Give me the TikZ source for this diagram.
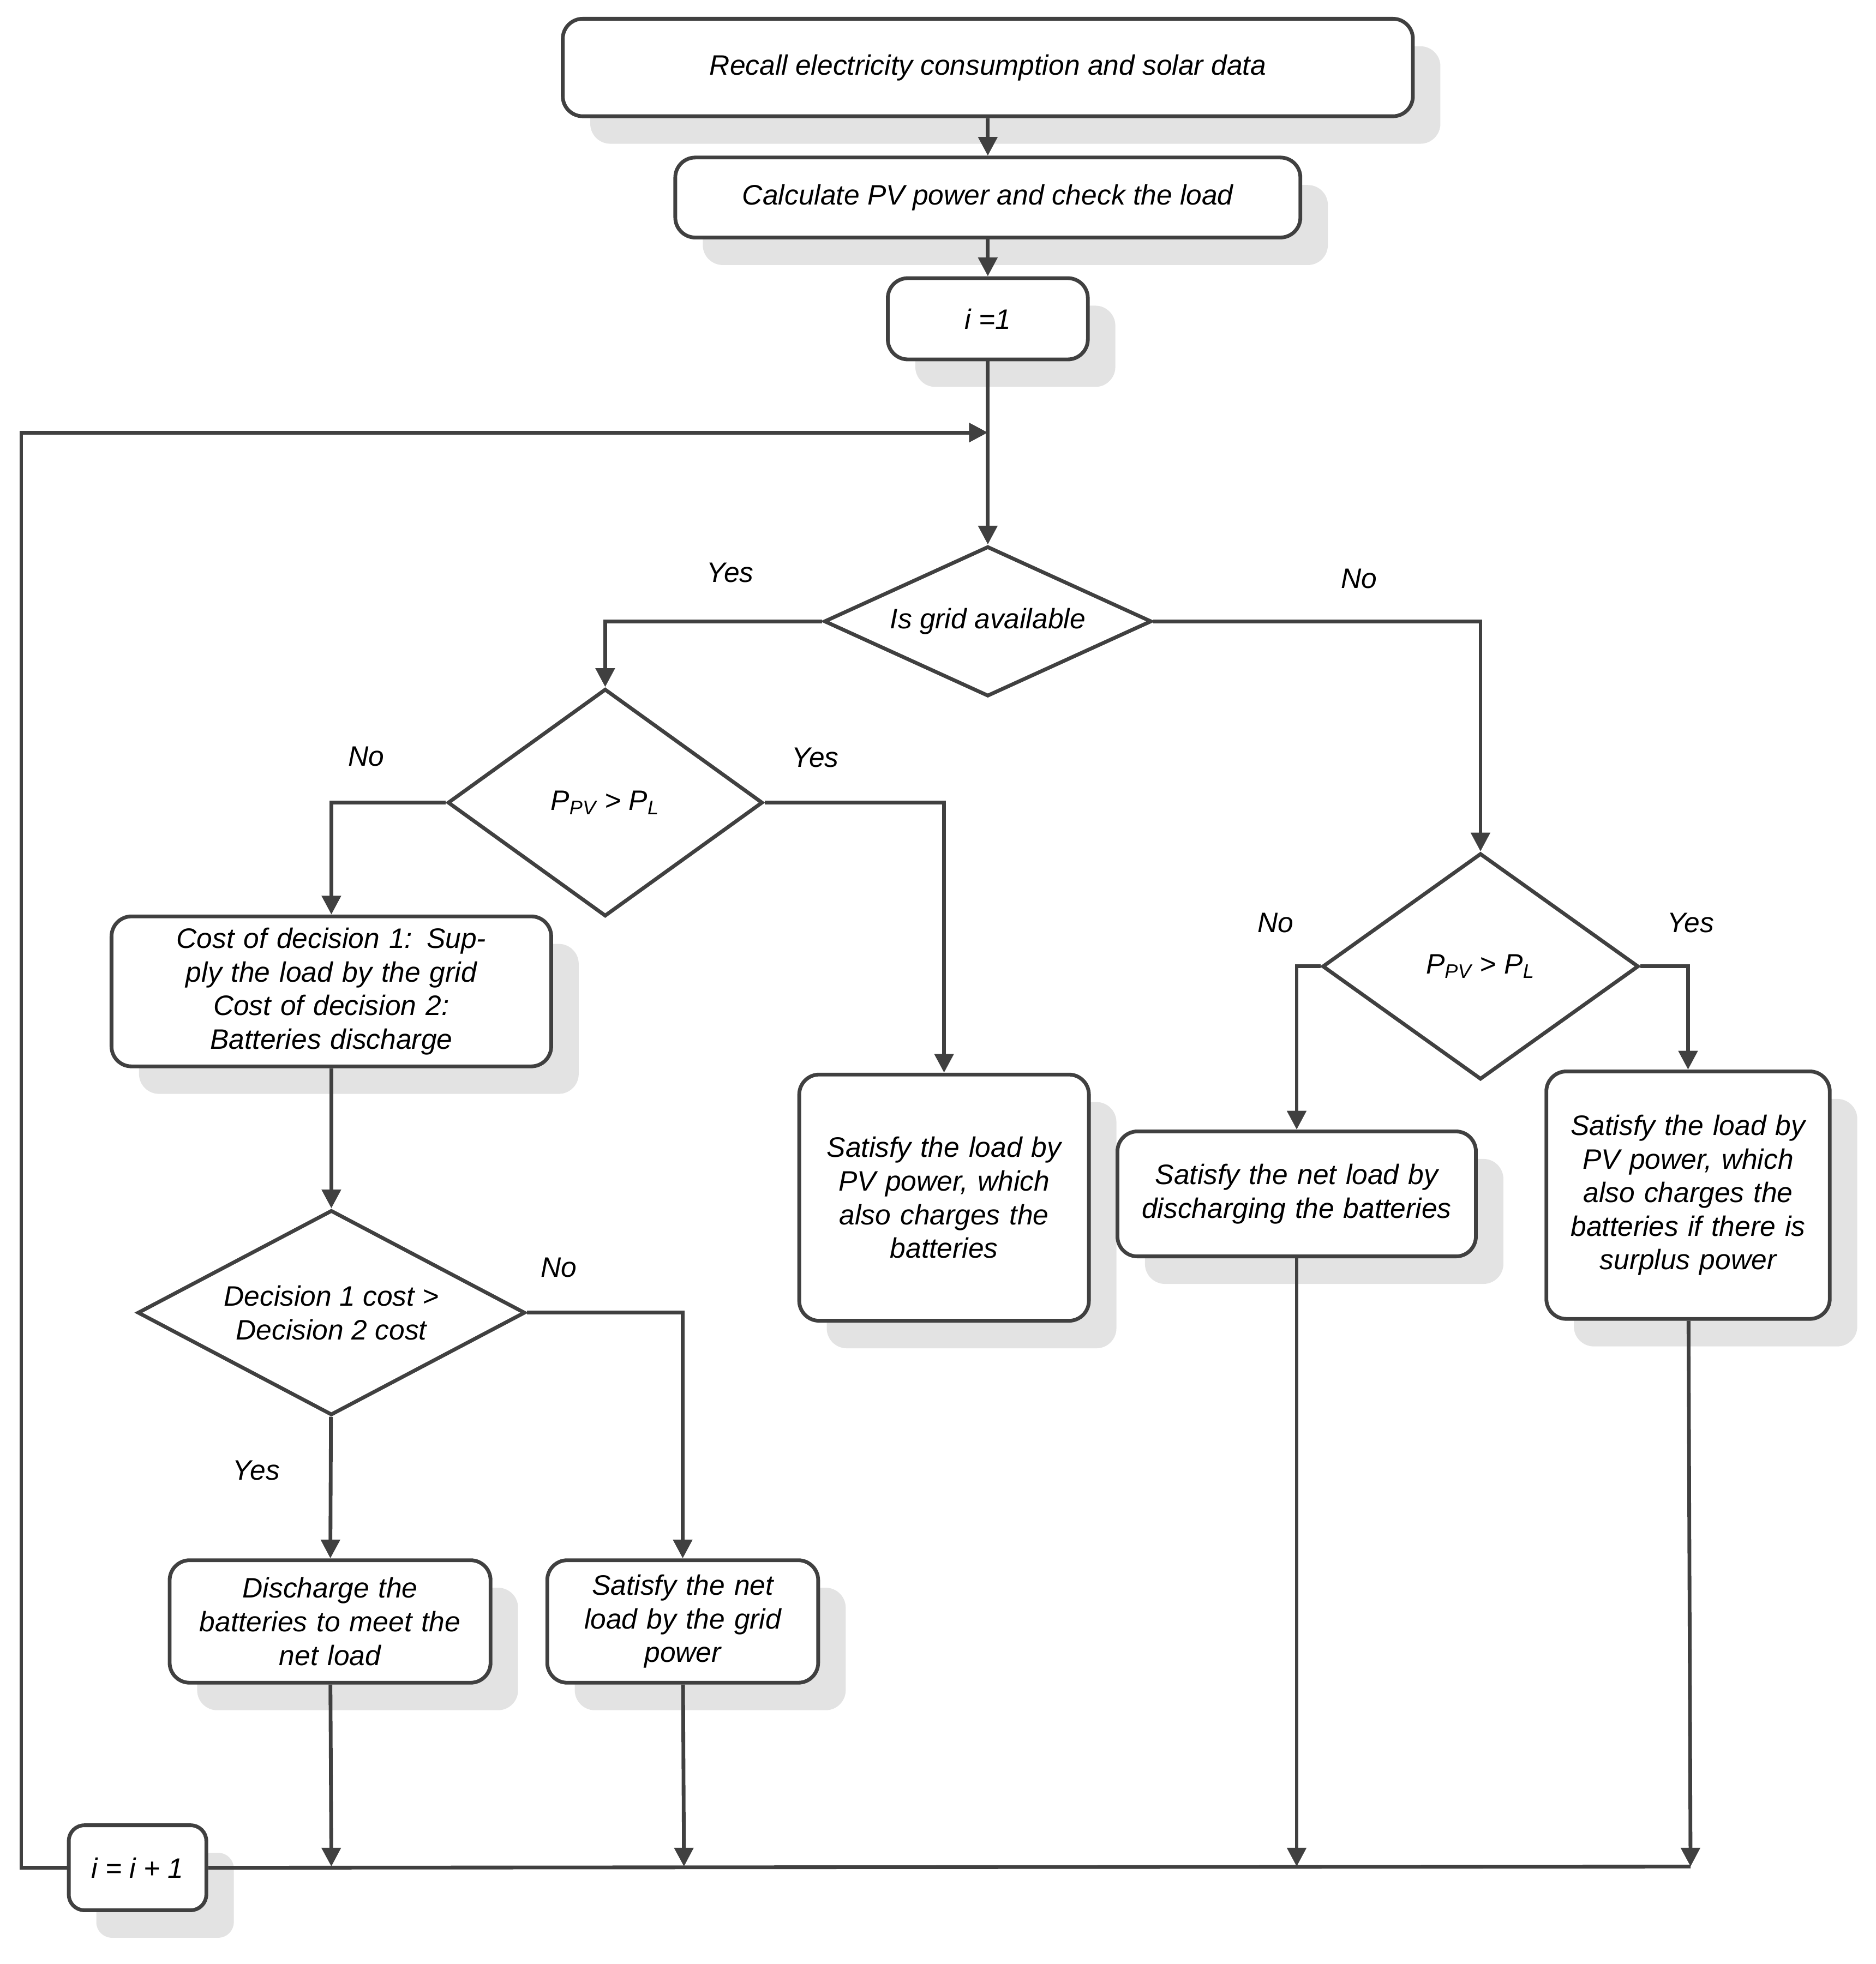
\documentclass[tikz,border=0pt]{standalone}
\usepackage{fontspec}
\setmainfont{Liberation Sans}
\usetikzlibrary{shapes.geometric,shadows,arrows.meta}
\definecolor{ln}{HTML}{404040}
\begin{document}
\begin{tikzpicture}[x=0.02cm,y=-0.02cm,
  every node/.style={font=\fontsize{12.8}{15.3}\selectfont\itshape,text=black},
  box/.style={draw=ln,line width=1.7pt,rounded corners=0.32cm,fill=white,align=center,
    drop shadow={shadow xshift=0.44cm,shadow yshift=-0.44cm,fill=gray!22,opacity=1}},
  dec/.style={draw=ln,line width=1.7pt,diamond,fill=white,align=center,inner sep=0pt},
  lbl/.style={},
  conn/.style={draw=ln,line width=1.7pt},
  arr/.style={conn,-{Triangle[length=0.3cm,width=0.3cm]}}]
\useasboundingbox (0,0) rectangle (1500,1571);
% boxes
\node[box,minimum width=13.6cm,minimum height=1.56cm] (a) at (790,54) {Recall electricity consumption and solar data};
\node[box,minimum width=10cm,minimum height=1.28cm] (b) at (790,158) {Calculate PV power and check the load};
\node[box,minimum width=3.2cm,minimum height=1.3cm] (c) at (790,255) {i =1};
\node[dec,minimum width=5.24cm,minimum height=2.4cm,aspect=2.2] (d1) at (790,497) {Is grid available};
\node[dec,minimum width=5.04cm,minimum height=3.64cm,aspect=1.4] (d2) at (484,642) {P\textsubscript{PV} > P\textsubscript{L}};
\node[box,minimum width=7cm,minimum height=2.4cm,text width=6.8cm] (e) at (265,793) {Cost of decision 1: Supply the load by the grid\\Cost of decision 2: Batteries discharge};
\node[dec,minimum width=6.2cm,minimum height=3.28cm,aspect=1.9] (d3) at (265,1050) {Decision 1 cost >\\Decision 2 cost};
\node[box,minimum width=5.04cm,minimum height=1.96cm,text width=4.9cm] (f) at (264,1297) {Discharge the\\batteries to meet the\\net load};
\node[box,minimum width=4.24cm,minimum height=1.96cm,text width=4.1cm] (g) at (546,1297) {Satisfy the net\\load by the grid\\power};
\node[box,minimum width=4.5cm,minimum height=3.94cm,text width=4.4cm] (h) at (755,958) {Satisfy the load by\\PV power, which\\also charges the\\batteries};
\node[dec,minimum width=5.06cm,minimum height=3.62cm,aspect=1.4] (d4) at (1184,773) {P\textsubscript{PV} > P\textsubscript{L}};
\node[box,minimum width=5.6cm,minimum height=2cm,text width=5.5cm] (i) at (1037,955) {Satisfy the net load by\\discharging the batteries};
\node[box,minimum width=4.32cm,minimum height=3.96cm,text width=4.3cm] (j) at (1350,956) {Satisfy the load by\\PV power, which\\also charges the\\batteries if there is\\surplus power};
\node[box,minimum width=2.2cm,minimum height=1.36cm,rounded corners=0.25cm] (k) at (110,1494) {i = i + 1};
% junctions
\coordinate (jn) at (790,346);
\coordinate (bf) at (265,1493);
\coordinate (bg) at (547,1493);
\coordinate (bi) at (1037,1493);
\coordinate (bj) at (1352,1493);
% connectors
\draw[arr] (a) -- (b);
\draw[arr] (b) -- (c);
\draw[conn] (c) -- (jn);
\draw[arr] (jn) -- (d1.north);
\draw[arr] (k.west) -- (17,1494) -- (17,346) -- (jn);
\draw[arr] (d1.west) -| (d2.north);
\draw[arr] (d1.east) -| (d4.north);
\draw[arr] (d2.west) -| (e.north);
\draw[arr] (d2.east) -| (h.north);
\draw[arr] (e) -- (d3);
\draw[arr] (d3) -- (f);
\draw[arr] (d3.east) -| (g.north);
\draw[arr] (d4.west) -| (i.north);
\draw[arr] (d4.east) -| (j.north);
\draw[arr] (f) -- (bf);
\draw[arr] (g) -- (bg);
\draw[arr] (i) -- (bi);
\draw[arr] (j) -- (bj);
\draw[conn] (k.east) -- (bj);
% labels
\node at (584,458) {Yes};
\node at (1087,463) {No};
\node at (293,605) {No};
\node at (652,606) {Yes};
\node at (1020,738) {No};
\node at (1352,738) {Yes};
\node at (447,1014) {No};
\node at (205,1176) {Yes};
\end{tikzpicture}
\end{document}
